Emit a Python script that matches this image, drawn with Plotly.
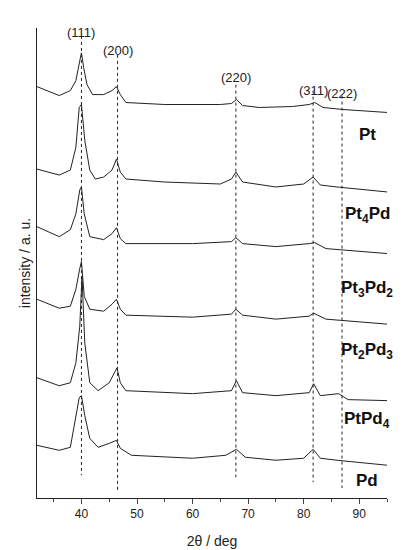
import plotly.graph_objects as go

# values (image-pixel heights turned into arbitrary intensity)
pt_x = [32, 36, 38, 39, 39.7, 40, 40.4, 41, 42, 44, 45.5, 46.3, 47, 48, 55, 65, 67, 67.9, 69, 72, 78, 81, 82, 83.5, 87, 95]
pt_px = [79, 88, 83, 73, 53, 45, 60, 77, 87, 87, 83, 79, 87, 95, 97, 97, 96, 92, 98, 100, 99, 97, 95, 100, 102, 105]

pt4pd_x = [32, 36, 38, 39, 39.6, 40, 40.6, 41.5, 42.5, 44, 45.5, 46.3, 47, 48, 55, 65, 67, 67.8, 69, 75, 80, 81.7, 83, 86, 95]
pt4pd_px = [162, 168, 163, 140, 100, 97, 133, 163, 172, 170, 163, 152, 165, 172, 175, 177, 172, 165, 175, 180, 177, 170, 178, 180, 185]

pt3pd2_x = [32, 36, 38, 39, 39.7, 40, 40.5, 41.5, 44, 45.5, 46.3, 47, 48, 60, 67, 67.8, 69, 75, 81, 82, 84, 95]
pt3pd2_px = [220, 230, 223, 207, 183, 180, 207, 230, 233, 227, 221, 232, 237, 237, 235, 231, 237, 240, 237, 236, 242, 247]

pt2pd3_x = [32, 36, 38, 39, 39.7, 40, 40.5, 41.5, 44, 45.5, 46.3, 47, 48, 60, 67, 67.8, 69, 75, 81, 81.8, 84, 95]
pt2pd3_px = [293, 302, 300, 283, 262, 255, 290, 303, 305, 298, 293, 303, 309, 311, 308, 303, 309, 313, 310, 307, 313, 318]

ptpd4_x = [32, 36, 38, 39, 39.7, 40.1, 40.6, 41.5, 43, 45, 46.4, 47, 48, 60, 67, 67.9, 69, 75, 81, 81.8, 83, 86.3, 88, 95]
ptpd4_px = [372, 380, 377, 357, 320, 270, 337, 377, 385, 377, 362, 377, 385, 388, 385, 375, 387, 390, 387, 378, 390, 388, 394, 395]

pd_x = [32, 36, 38, 39, 39.6, 40, 40.6, 41.5, 43, 45, 46.3, 47, 49, 60, 66, 67.9, 69.5, 75, 80, 81.7, 83, 86, 95]
pd_px = [440, 445, 442, 413, 392, 390, 410, 433, 442, 438, 435, 443, 450, 453, 450, 444, 452, 455, 453, 444, 453, 455, 460]

samples = ["Pt", "Pt<sub>4</sub>Pd", "Pt<sub>3</sub>Pd<sub>2</sub>", "Pt<sub>2</sub>Pd<sub>3</sub>", "PtPd<sub>4</sub>", "Pd"]
label_px = [127, 208, 283, 345, 415, 475]

peaks = ["(111)", "(200)", "(220)", "(311)", "(222)"]
peak_pos = [40, 46.5, 67.8, 81.7, 86.9]
peak_top = [28, 47, 77, 83, 88]
peak_bot = [470, 487, 472, 477, 483]
peak_lbl = [15, 33, 60, 73, 76]

H = 493  # pixel row of the x axis
TOP = 473  # y range (plot area 20..493 px)
fig = go.Figure()

for xs, ps in [(pt_x, pt_px), (pt4pd_x, pt4pd_px), (pt3pd2_x, pt3pd2_px),
               (pt2pd3_x, pt2pd3_px), (ptpd4_x, ptpd4_px), (pd_x, pd_px)]:
    fig.add_trace(go.Scatter(x=xs, y=[H - p for p in ps], mode="lines",
                             line=dict(color="#222", width=1)))

for name, pos, top, bot, lp in zip(peaks, peak_pos, peak_top, peak_bot, peak_lbl):
    fig.add_trace(go.Scatter(x=[pos, pos], y=[H - top, H - bot], mode="lines",
                             line=dict(color="#222", width=1, dash="dot")))
    fig.add_annotation(x=pos, y=(H - lp) / TOP, yref="paper", text=name, showarrow=False,
                       font=dict(size=13, color="#222"))

for s, lp in zip(samples, label_px):
    fig.add_annotation(x=91.4, y=H - lp, text="<b>" + s + "</b>", showarrow=False,
                       xanchor="center", font=dict(size=17, color="#111"))

fig.update_layout(
    width=408, height=550, showlegend=False,
    margin=dict(l=29, r=29, t=20, b=57),
    plot_bgcolor="white", paper_bgcolor="white",
    font=dict(family="Liberation Sans, Arial", color="#222"),
    xaxis=dict(range=[32, 95], tickvals=[40, 50, 60, 70, 80, 90], ticks="outside",
               ticklen=5, showline=True, linecolor="#222", showgrid=False, zeroline=False,
               minor=dict(tickvals=[35, 45, 55, 65, 75, 85, 95], ticks="outside", ticklen=3),
               title=dict(text="2θ / deg", font=dict(size=14)), tickfont=dict(size=12)),
    yaxis=dict(range=[0, TOP], showticklabels=False, ticks="", showline=True,
               linecolor="#222", showgrid=False, zeroline=False,
               title=dict(text="intensity / a. u.", font=dict(size=14), standoff=2)),
)

fig.write_html("out.html")
